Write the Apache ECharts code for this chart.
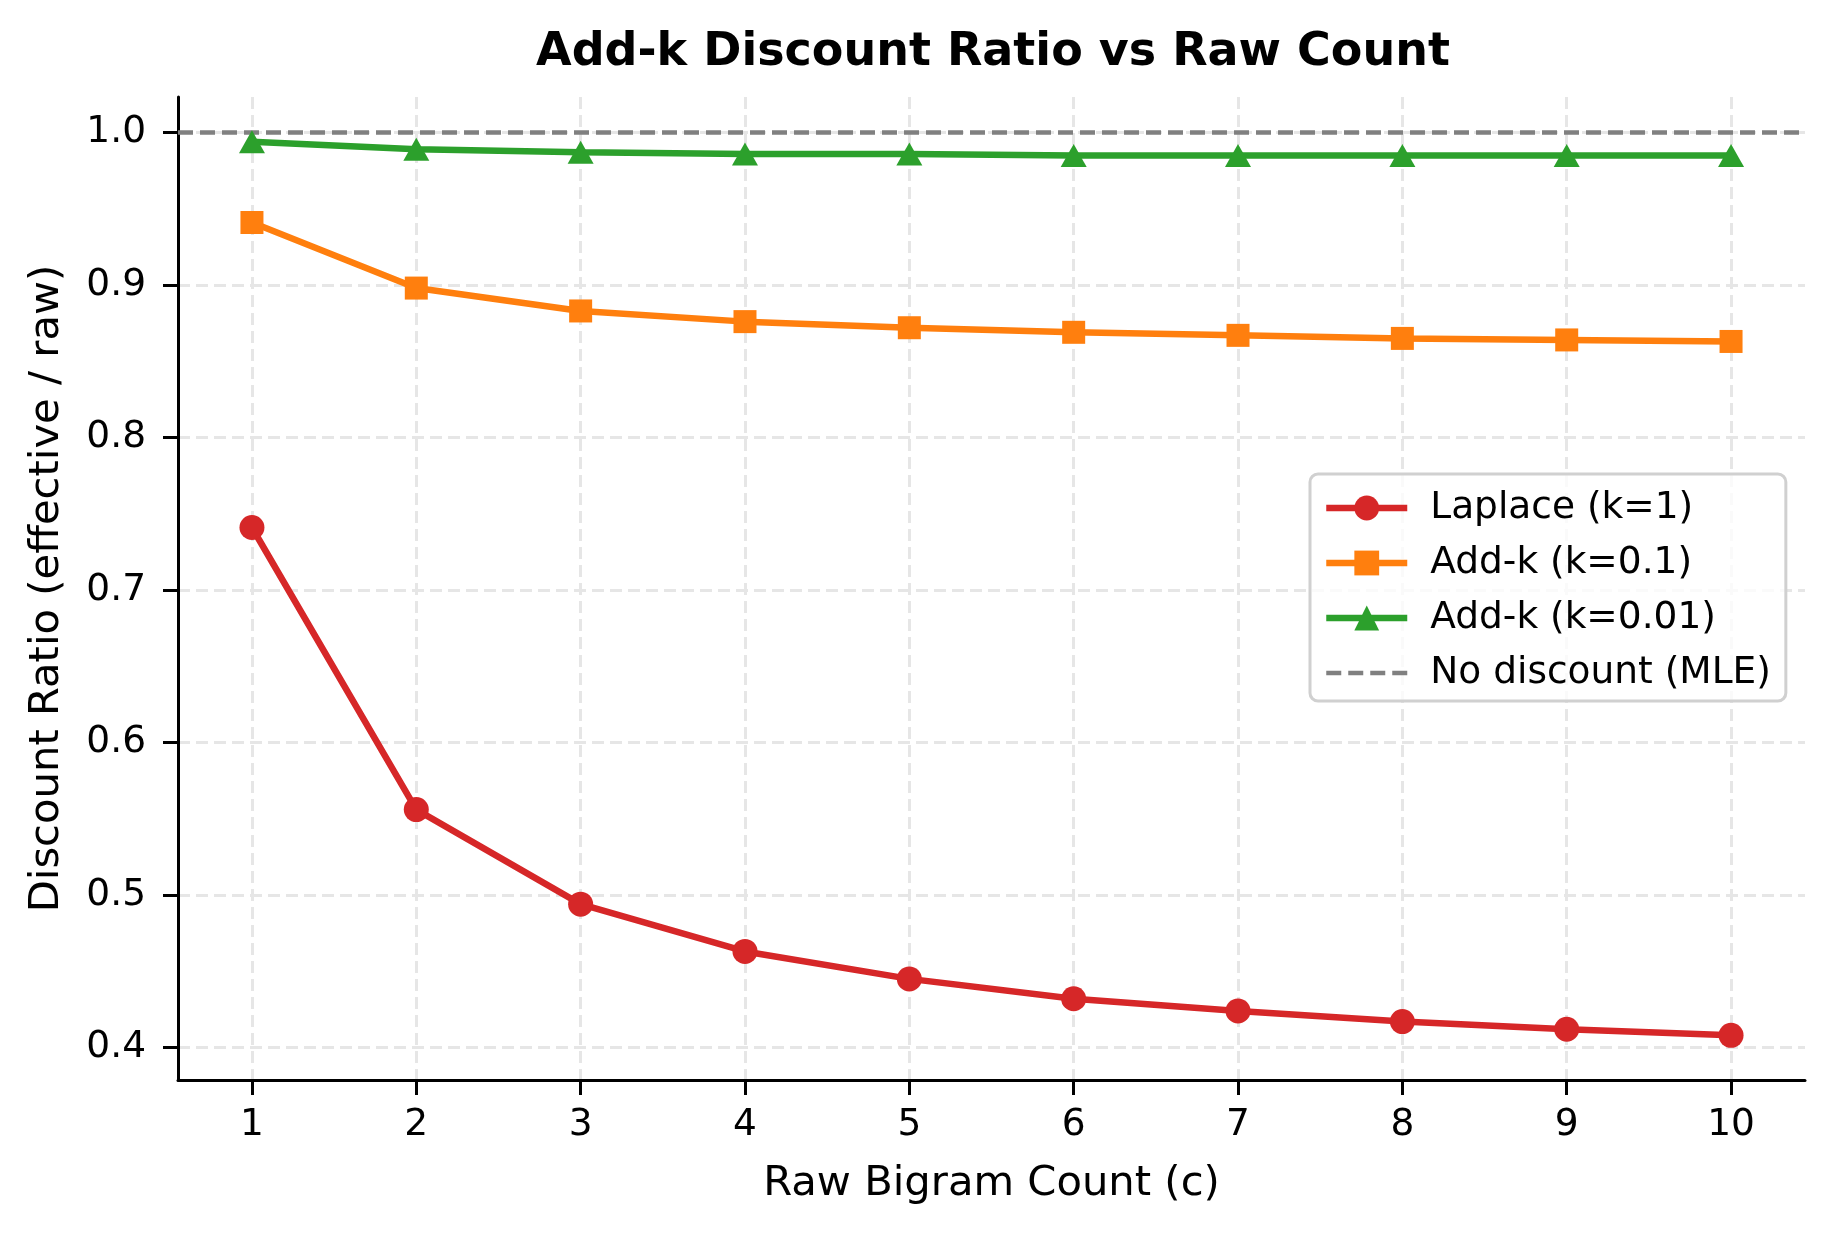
<!DOCTYPE html>
<html>
<head>
<meta charset="utf-8">
<script src="https://cdn.jsdelivr.net/npm/echarts@6/dist/echarts.min.js"></script>
<style>html,body{margin:0;padding:0;background:#fff;}#chart{width:1834px;height:1234px;}</style>
</head>
<body>
<div id="chart"></div>
<script>
// Data
const counts = [1, 2, 3, 4, 5, 6, 7, 8, 9, 10];
const laplace = [0.741, 0.556, 0.494, 0.463, 0.445, 0.432, 0.424, 0.417, 0.412, 0.408];
const addK01 = [0.941, 0.898, 0.883, 0.876, 0.872, 0.869, 0.867, 0.865, 0.864, 0.863];
const addK001 = [0.994, 0.989, 0.987, 0.986, 0.986, 0.985, 0.985, 0.985, 0.985, 0.985];
const mleValue = 1.0;
const xTicks = [1, 2, 3, 4, 5, 6, 7, 8, 9, 10];
const yTicks = [0.4, 0.5, 0.6, 0.7, 0.8, 0.9, 1.0];
const xMin = 0.55, xMax = 10.45;
const yMin = 0.3787, yMax = 1.0233;

const FONT = 'DejaVu Sans';
const pairs = (ys) => counts.map((c, i) => [c, ys[i]]);

const chart = echarts.init(document.getElementById('chart'), null, {renderer: 'canvas'});
const axisCommon = {
  axisLine: {show: true, onZero: false, lineStyle: {color: '#000', width: 3}},
  axisTick: {show: true, length: 15, lineStyle: {color: '#000', width: 3}},
  splitLine: {show: true, lineStyle: {color: '#e6e6e6', width: 3, type: [12, 6]}},
};
chart.setOption({
  animation: false,
  backgroundColor: '#fff',
  title: {
    text: 'Add-k Discount Ratio vs Raw Count',
    left: 988, top: 25, textAlign: 'center',
    textStyle: {fontFamily: FONT, fontSize: 46, fontWeight: 'bold', color: '#000', lineHeight: 46}
  },
  grid: {left: 178, right: 29, top: 97, bottom: 154},
  legend: {
    orient: 'vertical', left: 1310, top: 474,
    padding: [14, 15, 8, 13],
    itemGap: 15, itemWidth: 81, itemHeight: 31,
    backgroundColor: 'rgba(255,255,255,0.8)',
    borderColor: '#d0d0d0', borderWidth: 3, borderRadius: 8,
    textStyle: {fontFamily: FONT, fontSize: 37.5, color: '#000', lineHeight: 40, padding: [0, 0, 0, 18]},
    data: [
      {name: 'Laplace (k=1)', lineStyle: {width: 6.5}},
      {name: 'Add-k (k=0.1)', lineStyle: {width: 6.5}},
      {name: 'Add-k (k=0.01)', lineStyle: {width: 6.5}},
      {name: 'No discount (MLE)', lineStyle: {width: 4.5, type: [15, 7]}, itemStyle: {opacity: 0}}
    ]
  },
  xAxis: Object.assign({
    type: 'value', min: xMin, max: xMax,
    name: 'Raw Bigram Count (c)', nameLocation: 'middle', nameGap: 83,
    nameTextStyle: {fontFamily: FONT, fontSize: 41.7, color: '#000'},
    axisLabel: {customValues: xTicks, margin: 26, fontFamily: FONT, fontSize: 37.5, color: '#000'},
  }, axisCommon, {
    axisTick: {show: true, customValues: xTicks, length: 15, lineStyle: {color: '#000', width: 3}}
  }),
  yAxis: Object.assign({
    type: 'value', min: yMin, max: yMax,
    name: 'Discount Ratio (effective / raw)', nameLocation: 'middle', nameGap: 110,
    nameTextStyle: {fontFamily: FONT, fontSize: 41.7, color: '#000'},
    axisLabel: {customValues: yTicks, margin: 32, fontFamily: FONT, fontSize: 37.5, color: '#000',
      formatter: v => v.toFixed(1)},
  }, axisCommon, {
    axisTick: {show: true, customValues: yTicks, length: 15, lineStyle: {color: '#000', width: 3}}
  }),
  series: [
    {name: 'No discount (MLE)', type: 'line', data: [[xMin, mleValue], [xMax, mleValue]],
      symbol: 'none', z: 1,
      lineStyle: {color: '#808080', width: 4.5, type: [15, 7]}, itemStyle: {color: '#808080'}},
    {name: 'Laplace (k=1)', type: 'line', data: pairs(laplace), symbol: 'circle', symbolSize: 25, z: 3,
      lineStyle: {color: '#d62728', width: 6.5}, itemStyle: {color: '#d62728'}},
    {name: 'Add-k (k=0.1)', type: 'line', data: pairs(addK01), symbol: 'rect', symbolSize: 23, z: 3,
      lineStyle: {color: '#ff7f0e', width: 6.5}, itemStyle: {color: '#ff7f0e'}},
    {name: 'Add-k (k=0.01)', type: 'line', data: pairs(addK001), symbol: 'triangle', symbolSize: [26, 23], z: 3,
      lineStyle: {color: '#2ca02c', width: 6.5}, itemStyle: {color: '#2ca02c'}},
  ]
});
</script>
</body>
</html>
